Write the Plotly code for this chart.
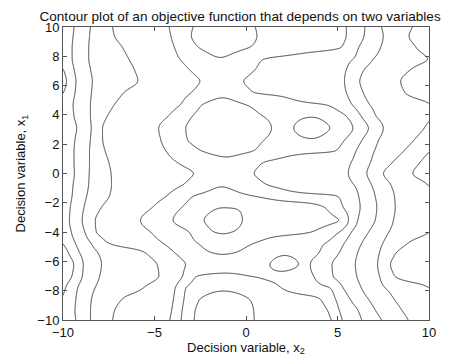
import numpy as np
import plotly.graph_objects as go

# ---------------- data ----------------
x2_ticks = [-10, -5, 0, 5, 10]
x1_ticks = [-10, -8, -6, -4, -2, 0, 2, 4, 6, 8, 10]

# rows of x1 at which the contour crossings were read
x1_rows = [10, 9.4, 8.6, 7.8, 7.1, 6.3, 5.5, 4.7, 3.9, 3.1, 2.3, 1.5, 0.75, 0,
           -0.75, -1.5, -2.3, -3.2, -4.0, -4.7, -5.4, -6.2, -7.0, -7.8, -8.6, -9.4, -10]
N = None

# left band of contour lines: x2 position on each row (level in comment)
line_a = [-9.95, -10.1, -10.25, -10.2, -9.95, -9.8, -9.95, -10.2, -10.2, -10.1, -10.1, -10.15, -10.1, -10.0,
          -10.1, -10.2, -10.3, -10.3, -10.2, -10.0, -9.7, -9.4, -9.5, -9.85, -10.0, -10.05, -10.0]   # 6
line_b = [-9.4, -9.45, -9.5, -9.5, -9.4, -9.3, -9.35, -9.45, -9.4, -9.25, -9.35, -9.4, -9.4, -9.38,
          -9.45, -9.5, -9.6, -9.65, -9.55, -9.35, -9.1, -8.9, -8.95, -9.2, -9.3, -9.35, -9.3]      # 5
line_c = [-8.5, -8.55, -8.6, -8.6, -8.5, -8.4, -8.45, -8.5, -8.5, -8.45, -8.5, -8.55, -8.55, -8.57,
          -8.6, -8.7, -8.85, -8.95, -8.8, -8.5, -8.1, -7.9, -8.0, -8.25, -8.45, -8.5, -8.5]        # 4
line_d = [-7.3, -7.2, -6.75, -6.4, -6.1, -5.9, -6.7, -7.2, -7.6, -7.86, -7.85, -7.7, -7.5, -7.38,
          -7.35, -7.45, -7.9, -8.25, -8.2, -7.6, -5.5, -4.85, -4.75, -5.6, -6.8, -7.2, -7.3]        # 3
line_e = [-4.2, -4.1, -3.9, -3.6, -3.1, -2.5, -3.0, -3.57, -4.25, -4.77, -4.65, -4.35, -3.75, -2.85,
          -3.4, -4.3, -5.1, -5.77, -5.2, -4.6, -3.9, -3.3, -3.45, -3.85, -3.95, -4.05, -4.15]       # 2

# central valley: level-1 and level-0 crossings and the valley floor
loop_left = [-2.9, -3.0, -2.6, N, N, N, N, -2.4, -2.95, -3.3, -3.2, -2.35, N, N,
             N, -2.8, -3.5, -4.0, -3.1, -2.7, -1.9, N, -2.7, -3.3, -3.4, -3.5, -3.55]            # 1
inner_left = [N] * 17 + [-2.3, -1.75, N, N, N, N, N, -2.55, -2.8, -2.85]                          # 0
valley_x2 = [-1.2, -1.2, -1.25, -1.4, -1.35, -1.3, -1.3, -1.2, -1.0, -1.0, -1.0, -1.0, -1.1, -1.3,
             -1.35, -1.3, -1.25, -1.25, -1.25, -1.25, -1.35, -1.4, -1.3, -1.3, -1.2, -1.2, -1.2]
valley_f = [0.45, 0.38, 0.7, 1.05, 1.35, 1.62, 1.22, 0.7, 0.42, 0.3, 0.45, 0.8, 1.2, 1.52,
            1.08, 0.7, 0.02, -0.35, -0.08, 0.5, 0.9, 1.5, 0.8, 0.15, -0.3, -0.42, -0.45]
inner_right = [N] * 17 + [-0.2, -0.75, N, N, N, N, N, 0.2, 0.42, 0.45]                            # 0
loop_right = [0.5, 0.6, 0.2, N, N, N, N, 0.0, 0.95, 1.4, 1.0, 0.35, N, N,
              N, 0.25, 4.3, 5.15, 3.6, 0.55, -0.6, N, 0.15, 1.9, 4.1, 4.5, 4.7]                  # 1
shelf_x2 = [3.0, 3.0, 2.8, 3.2, 2.8, 2.5, 2.6, 2.5, 2.2, 2.0, 2.2, 2.5, 3.0, 3.0,
            3.0, 2.5, N, 2.0, 1.5, 2.5, 0.7, N, 2.1, 3.2, N, N, N]
shelf_f = [1.6, 1.62, 1.75, 2.25, 2.4, 2.45, 2.15, 1.85, 1.18, 1.12, 1.2, 1.8, 2.35, 2.5,
           2.3, 1.8, N, 0.55, 0.7, 1.5, 1.25, N, 1.15, 1.6, N, N, N]

# the two small closed contours
small_left = [N] * 9 + [2.6] + [N] * 11 + [1.3] + [N] * 5                                         # 1
small_x2 = [N] * 8 + [3.6, 3.6, 3.6] + [N] * 9 + [2.1, 2.1] + [N] * 5
small_f = [N] * 8 + [1.03, 0.7, 1.05] + [N] * 9 + [1.1, 0.75] + [N] * 5
small_right = [N] * 9 + [4.6] + [N] * 11 + [2.9] + [N] * 5                                        # 1

# right band of contour lines
line_r1 = [5.5, 5.5, 5.25, 0.9, 0.5, -0.15, 0.45, 4.3, 5.5, 5.85, 5.4, 4.8, 0.9, 0.43,
           1.1, 4.9, 5.3, 5.6, 5.1, 4.4, 4.0, 3.5, 3.7, 4.6, 4.9, 5.1, 5.25]                     # 2
line_r2 = [6.5, 6.45, 6.15, 5.85, 5.5, 5.4, 5.5, 5.8, 6.3, 6.7, 6.35, 6.0, 5.75, 5.6,
           5.9, 6.15, 6.24, 6.1, 5.75, 5.4, 5.1, 4.7, 4.75, 5.3, 5.7, 6.15, 6.33]                # 3
line_r3 = [7.4, 7.5, 7.35, 6.95, 6.45, 6.2, 6.4, 6.75, 7.1, 7.5, 7.25, 7.0, 6.8, 6.6,
           6.85, 7.05, 7.15, 7.06, 6.7, 6.35, 6.1, 5.97, 6.05, 6.3, 6.7, 7.1, 7.42]              # 4
line_r4 = [9.1, 8.9, 9.3, 9.95, 9.0, 8.45, 8.7, 10.05, 10.1, 9.75, 9.2, 8.6, 8.0, 7.5,
           7.9, 8.1, 8.15, 8.05, 7.8, 7.5, 7.3, 7.2, 7.3, 7.6, 8.1, 8.55, 8.87]                  # 5
line_r5 = [10.8, 10.6, 10.5, 10.4, 10.3, 10.2, 10.3, 10.5, 10.6, 10.6, 10.4, 10.0, 9.5, 9.1,
           9.9, 10.3, 10.5, 10.4, 10.0, 8.9, 8.2, 7.87, 8.1, 10.0, 10.4, 10.6, 10.7]             # 6

levels = [0, 1, 2, 3, 4, 5, 6]


# ---------------- surface built from the read crossings ----------------
def pchip(xk, yk, xq):
    xk = np.asarray(xk, float)
    yk = np.asarray(yk, float)
    flat = yk.ndim == 1
    if flat:
        yk = yk[:, None]
    h = np.diff(xk)
    delta = np.diff(yk, axis=0) / h[:, None]
    d = np.zeros_like(yk)
    if len(xk) > 2:
        dl, dr = delta[:-1], delta[1:]
        w1 = (2 * h[1:] + h[:-1])[:, None]
        w2 = (h[1:] + 2 * h[:-1])[:, None]
        ok = dl * dr > 0
        sdl = np.where(ok, dl, 1.0)
        sdr = np.where(ok, dr, 1.0)
        d[1:-1] = np.where(ok, (w1 + w2) / (w1 / sdl + w2 / sdr), 0.0)
    d[0] = delta[0]
    d[-1] = delta[-1]
    i = np.clip(np.searchsorted(xk, xq) - 1, 0, len(xk) - 2)
    t = ((xq - xk[i]) / h[i])[:, None]
    hh = h[i][:, None]
    y = ((2 * t ** 3 - 3 * t ** 2 + 1) * yk[i] + (t ** 3 - 2 * t ** 2 + t) * hh * d[i]
         + (-2 * t ** 3 + 3 * t ** 2) * yk[i + 1] + (t ** 3 - t ** 2) * hh * d[i + 1])
    return y[:, 0] if flat else y


fixed = [(line_a, 6), (line_b, 5), (line_c, 4), (line_d, 3), (line_e, 2),
         (loop_left, 1), (inner_left, 0), (inner_right, 0), (loop_right, 1),
         (small_left, 1), (small_right, 1),
         (line_r1, 2), (line_r2, 3), (line_r3, 4), (line_r4, 5), (line_r5, 6)]
free = [(valley_x2, valley_f), (shelf_x2, shelf_f), (small_x2, small_f)]

x2 = np.linspace(-10, 10, 641)
x1 = np.linspace(-10, 10, 641)
rows = []
for r in range(len(x1_rows)):
    kn = [(-10.8, 7.0), (11.5, 7.0)]
    for arr, lev in fixed:
        if arr[r] is not None:
            kn.append((arr[r], float(lev)))
    for ua, fa in free:
        if ua[r] is not None:
            kn.append((ua[r], fa[r]))
    kn.sort()
    rows.append(pchip([k[0] for k in kn], [k[1] for k in kn], x2))
rows = np.array(rows)[::-1]
Z = pchip(np.array(x1_rows, float)[::-1], rows, x1)

# light smoothing of the sampled surface
g = np.exp(-0.5 * (np.arange(-8, 9) / 3.0) ** 2)
g /= g.sum()
Zp = np.pad(Z, 8, mode="edge")
Zp = np.apply_along_axis(lambda s: np.convolve(s, g, mode="same"), 0, Zp)
Zp = np.apply_along_axis(lambda s: np.convolve(s, g, mode="same"), 1, Zp)
Z = Zp[8:-8, 8:-8]

ink = "#383838"
fig = go.Figure(
    go.Contour(
        x=x2, y=x1, z=Z,
        contours=dict(coloring="lines", start=levels[0], end=levels[-1], size=1),
        colorscale=[[0, ink], [1, ink]],
        line=dict(width=1.0),
        showscale=False, hoverinfo="skip",
    )
)

font = "Liberation Sans, Arial, sans-serif"
axis_common = dict(
    range=[-10, 10], showline=True, linecolor="#555555", linewidth=1, mirror="ticks",
    ticks="inside", ticklen=4, tickcolor="#555555", showgrid=False, zeroline=False,
    tickfont=dict(family=font, size=13, color="#111111"),
    title_font=dict(family=font, size=13, color="#111111"),
)
fig.update_xaxes(tickvals=x2_ticks, title_text="Decision variable, x<sub>2</sub>", title_standoff=2,
                 **axis_common)
fig.update_yaxes(tickvals=x1_ticks, title_text="Decision variable, x<sub>1</sub>", title_standoff=8,
                 **axis_common)
# the page adds an 8 px body margin, so the figure is sized to end at the window edge
fig.update_layout(
    width=466, height=355,
    margin=dict(l=54, r=45, t=19, b=41),
    plot_bgcolor="white", paper_bgcolor="white",
    title=dict(text="Contour plot of an objective function that depends on two variables",
               x=0.498, xanchor="center", yref="container", y=0.9775, yanchor="middle",
               font=dict(family=font, size=13.6, color="#111111")),
)
fig.write_html("out.html")
